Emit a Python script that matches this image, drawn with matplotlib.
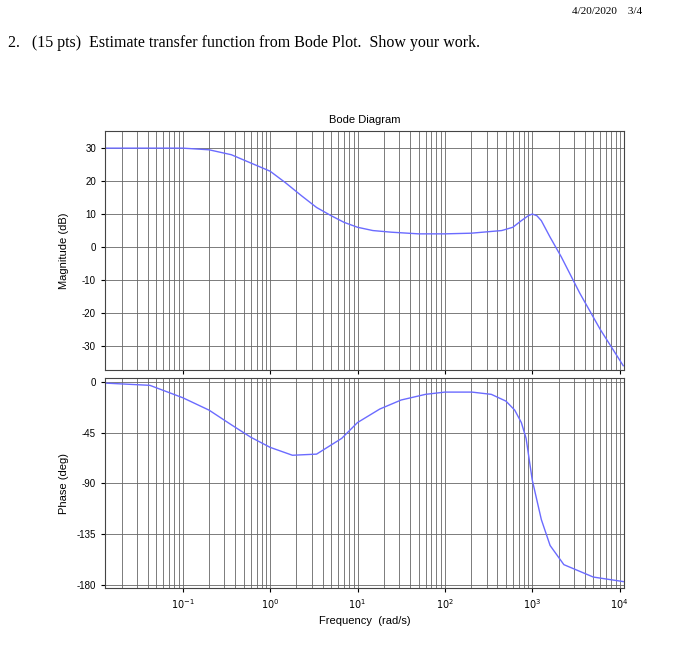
import matplotlib
matplotlib.use("Agg")
import matplotlib.pyplot as plt

plt.rcParams["axes.unicode_minus"] = False
plt.rcParams["font.family"] = ["Liberation Sans", "DejaVu Sans"]

mag_freq = [0.0128, 0.1, 0.2, 0.36, 0.6, 1.0, 1.5, 2.3, 3.4, 5.0, 7.0, 10.0, 15.0, 24.5, 50.0, 100.0, 200.0, 447.0, 600.0, 750.0, 900.0, 1000.0, 1130.0, 1270.0, 1600.0, 2150.0, 3500.0, 6000.0, 11000.0]
mag_db   = [30, 30, 29.5, 28, 25.5, 23, 19.5, 15.5, 12, 9.5, 7.5, 6, 5, 4.5, 4, 4, 4.2, 5, 6, 8, 9.5, 10, 9.5, 8, 3, -3, -14, -25, -36]
ph_freq = [0.0128, 0.042, 0.1, 0.2, 0.36, 0.6, 1.0, 1.8, 3.4, 6.6, 10.0, 18.0, 31.6, 60.0, 100.0, 204.0, 340.0, 500.0, 630.0, 750.0, 850.0, 1000.0, 1270.0, 1600.0, 2300.0, 5000.0, 11000.0]
ph_deg  = [-1, -3, -14, -25, -38, -49, -58, -65, -64, -50, -36, -24, -16, -11, -9, -9, -11, -17, -25, -36, -50, -87, -122, -145, -162, -173, -177]

W, H = 700, 671
fig = plt.figure(figsize=(W/100, H/100), dpi=100)
fig.patch.set_facecolor("white")

def rect(x0, y0, x1, y1):
    return [x0/W, 1-y1/H, (x1-x0)/W, (y1-y0)/H]

ax1 = fig.add_axes(rect(105, 131, 624, 370))
ax2 = fig.add_axes(rect(105, 378, 624, 588))
xl = (10**-1.89, 10**4.05)
blue = "#6b6bff"
for ax in (ax1, ax2):
    ax.set_xscale("log")
    ax.set_xlim(*xl)
    ax.grid(True, which="both", color="#666666", lw=0.6)
    ax.tick_params(labelsize=7, length=3)
    ax.tick_params(which="minor", length=0)
    for s in ax.spines.values():
        s.set_color("#444444")
ax1.plot(mag_freq, mag_db, color=blue, lw=1)
ax1.set_ylim(-37.3, 35.2)
ax1.set_yticks([30, 20, 10, 0, -10, -20, -30])
ax1.tick_params(which="both", labelbottom=False)
ax1.set_ylabel("Magnitude (dB)", fontsize=8)
ax1.set_title("Bode Diagram", fontsize=8, pad=6)

ax2.plot(ph_freq, ph_deg, color=blue, lw=1)
ax2.set_ylim(-182.7, 3.5)
ax2.set_yticks([0, -45, -90, -135, -180])
ax2.set_xticks([0.1, 1, 10, 100, 1000, 10000])
ax2.set_xticklabels([r"$10^{-1}$", r"$10^{0}$", r"$10^{1}$", r"$10^{2}$", r"$10^{3}$", r"$10^{4}$"])
ax2.set_ylabel("Phase (deg)", fontsize=8)
ax2.set_xlabel("Frequency  (rad/s)", fontsize=8)
ax1.yaxis.set_label_coords(-0.07, 0.5)
ax2.yaxis.set_label_coords(-0.07, 0.5)

fig.text(607/W, 1-12/H, "4/20/2020    3/4", fontsize=8, family="Liberation Serif", ha="center", va="center")
fig.text(8/W, 1-43/H, "2.   (15 pts)  Estimate transfer function from Bode Plot.  Show your work.",
         fontsize=11.5, family="Liberation Serif", ha="left", va="center")
fig.savefig("out.png", dpi=100)
